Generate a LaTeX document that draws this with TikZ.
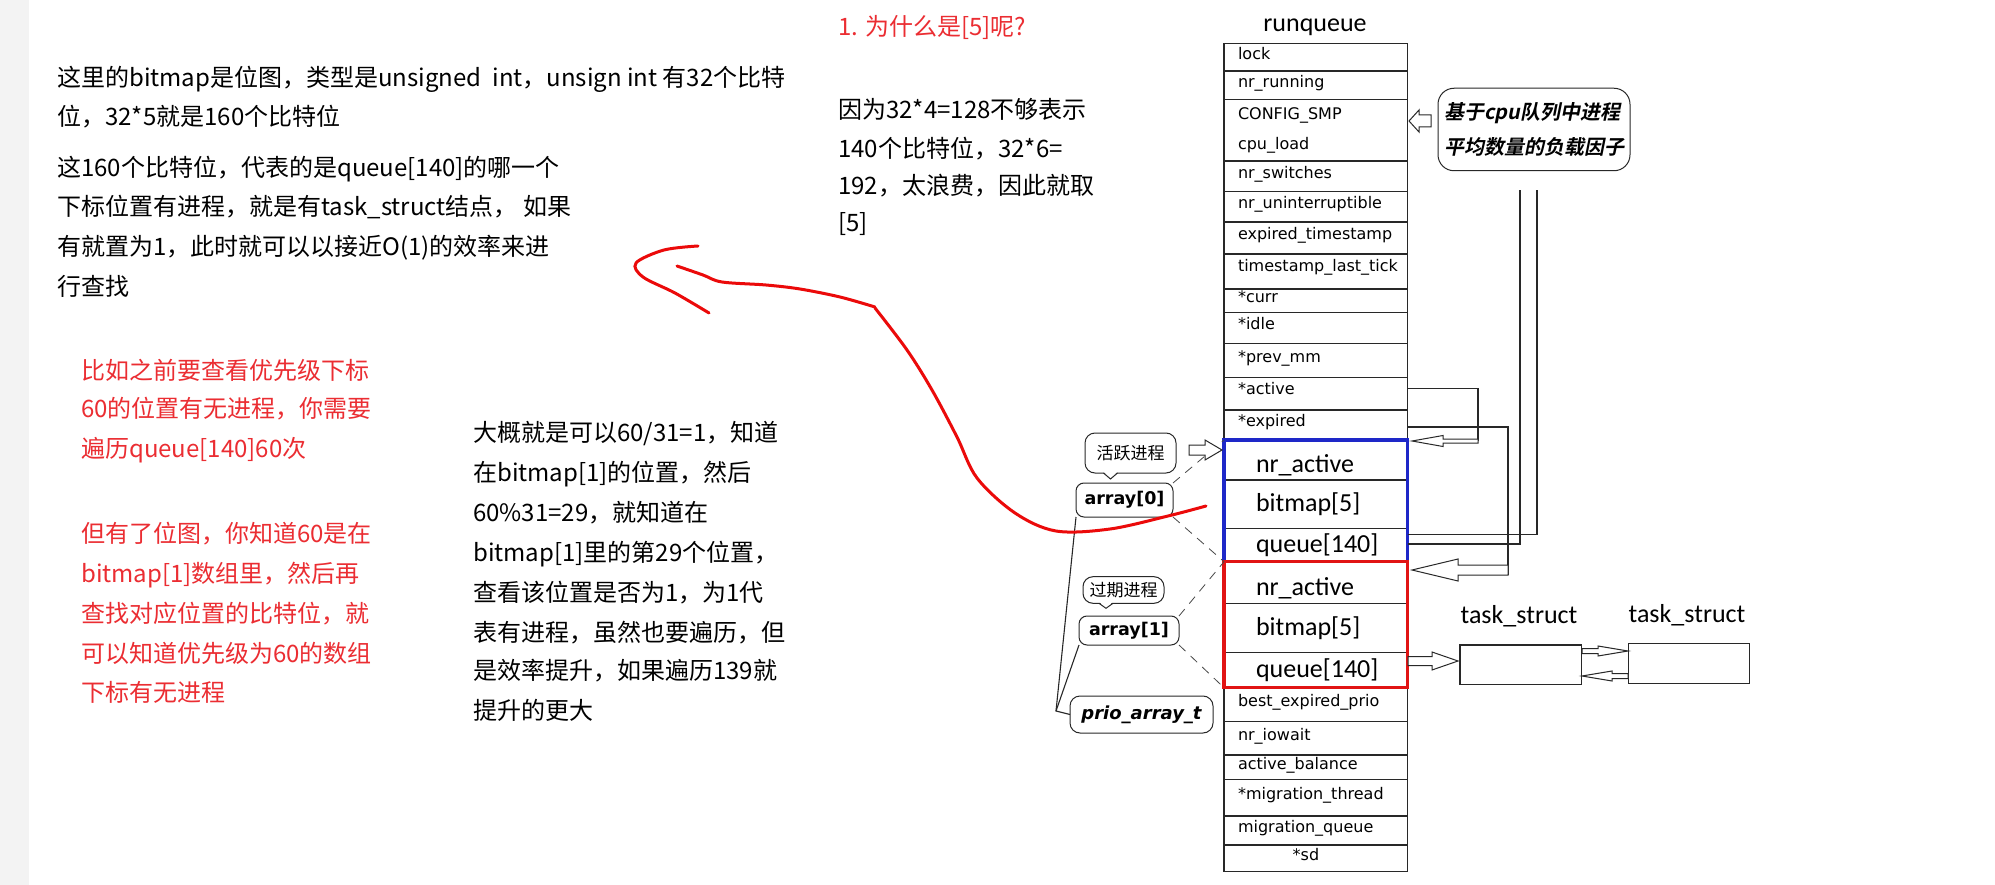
\documentclass[tikz,border=0pt]{standalone}
\usepackage{fontspec}
\setmainfont{DejaVu Sans}
\newfontfamily\cjk{Noto Sans CJK SC}
\newfontfamily\cjkbi[FakeSlant=0.2]{Noto Sans CJK SC Bold}
\newfontfamily\calfont{Carlito}
\usetikzlibrary{calc}
\definecolor{bluebox}{RGB}{30,40,200}
\definecolor{redbox}{RGB}{225,20,20}
\definecolor{redpen}{RGB}{235,10,10}
\definecolor{redtxt}{RGB}{235,45,50}
\definecolor{strip}{RGB}{243,243,243}
\definecolor{ln}{RGB}{40,40,40}
\newcommand\barrow[6]{\draw[barr] (#1,#4-#5) -- (#2,#4-#5) -- (#2,#4-#6) -- (#3,#4) -- (#2,#4+#6) -- (#2,#4+#5) -- (#1,#4+#5) -- cycle;}
\begin{document}
\begin{tikzpicture}[x=1pt,y=-1pt,
  rowbase/.style={draw=ln,line width=1.2pt,outer sep=0,minimum width=183.5,inner xsep=14,inner ysep=0,text width=155.5,align=left,font=\fontsize{16}{30}\selectfont,anchor=north},
  row/.style={rowbase,text height=12pt,text depth=8pt},
  bigrow/.style={draw=ln,line width=1.2pt,outer sep=0,minimum width=183.5,inner xsep=32,inner ysep=0,text width=119.5,align=left,font=\calfont\fontsize{26}{26}\selectfont,anchor=north},
  cn/.style={anchor=base west,inner sep=0,font=\cjk\fontsize{24}{24}\selectfont},
  barr/.style={draw=ln,line width=1pt,fill=white},
  dsh/.style={draw=ln!85,line width=0.8pt,dash pattern=on 9pt off 7pt},
  conn/.style={draw=ln,line width=1.1pt},
  bub/.style={draw=ln,line width=1pt,rounded corners=10,fill=white,inner sep=0,outer sep=0},
  redpenline/.style={draw=redpen,line width=3pt,line cap=round,line join=round}]
\useasboundingbox (0,0) rectangle (1995,885);
\fill[white] (0,0) rectangle (1995,885);
\fill[strip] (0,0) rectangle (29,885);

% ---------- left texts ----------
\node[cn] (p1a) at (57,87) {这里的bitmap是位图，类型是unsigned\ \ int，unsign int 有32个比特};
\node[cn] (p1b) at (57,126) {位，32*5就是160个比特位};
\node[cn] (p2a) at (57,177) {这160个比特位，代表的是queue[140]的哪一个};
\node[cn] (p2b) at (57,216) {下标位置有进程，就是有task\_struct结点， 如果};
\node[cn] (p2c) at (57,256) {有就置为1，此时就可以以接近O(1)的效率来进};
\node[cn] (p2d) at (57,296) {行查找};

\node[cn,text=redtxt] (r1) at (81,379) {比如之前要查看优先级下标};
\node[cn,text=redtxt] (r2) at (81,417) {60的位置有无进程，你需要};
\node[cn,text=redtxt] (r3) at (81,457) {遍历queue[140]60次};
\node[cn,text=redtxt] (r4) at (81,542) {但有了位图，你知道60是在};
\node[cn,text=redtxt] (r5) at (81,582) {bitmap[1]数组里，然后再};
\node[cn,text=redtxt] (r6) at (81,622) {查找对应位置的比特位，就};
\node[cn,text=redtxt] (r7) at (81,662) {可以知道优先级为60的数组};
\node[cn,text=redtxt] (r8) at (81,701) {下标有无进程};

\node[cn] (m1) at (473,441) {大概就是可以60/31=1，知道};
\node[cn] (m2) at (473,481) {在bitmap[1]的位置，然后};
\node[cn] (m3) at (473,521) {60\%31=29，就知道在};
\node[cn] (m4) at (473,561) {bitmap[1]里的第29个位置，};
\node[cn] (m5) at (473,601) {查看该位置是否为1，为1代};
\node[cn] (m6) at (473,641) {表有进程，虽然也要遍历，但};
\node[cn] (m7) at (473,679) {是效率提升，如果遍历139就};
\node[cn] (m8) at (473,719) {提升的更大};

\node[cn,text=redtxt] (q0) at (838,36) {1. 为什么是[5]呢?};
\node[cn] (q1) at (838,119) {因为32*4=128不够表示};
\node[cn] (q2) at (838,158) {140个比特位，32*6=};
\node[cn] (q3) at (838,195) {192，太浪费，因此就取};
\node[cn] (q4) at (838,232) {[5]};

% ---------- runqueue table ----------
\node[anchor=base,inner sep=0,font=\calfont\fontsize{26}{26}\selectfont] (title) at (1315,31.5) {runqueue};
\node[row,minimum height=27.7] (rlock) at (1315.75,43.3) {lock};
\node[row,minimum height=28.3] (rnrrun) at (rlock.south) {nr\_running};
\node[rowbase,minimum height=61.7] (rconfig) at (rnrrun.south) {CONFIG\_SMP\\cpu\_load};
\node[row,minimum height=30.7] (rswitch) at (rconfig.south) {nr\_switches};
\node[row,minimum height=30.3] (runint) at (rswitch.south) {nr\_uninterruptible};
\node[row,minimum height=32] (rexpts) at (runint.south) {expired\_timestamp};
\node[row,minimum height=35,text depth=11pt] (rtslt) at (rexpts.south) {timestamp\_last\_tick};
\node[row,minimum height=23.3] (rcurr) at (rtslt.south) {*curr};
\node[row,minimum height=31] (ridle) at (rcurr.south) {*idle};
\node[row,minimum height=34.4] (rprev) at (ridle.south) {*prev\_mm};
\node[row,minimum height=32.3,text depth=11pt] (ractive) at (rprev.south) {*active};
\node[row,minimum height=30,text depth=10pt] (rexp) at (ractive.south) {*expired};
\node[bigrow,minimum height=40,text height=29pt] (bna) at (rexp.south) {nr\_active};
\node[bigrow,minimum height=48.3] (bbm) at (bna.south) {bitmap[5]};
\node[bigrow,minimum height=33.4] (bq) at (bbm.south) {queue[140]};
\node[bigrow,minimum height=41.6,text height=29pt] (rna) at (bq.south) {nr\_active};
\node[bigrow,minimum height=49] (rbm) at (rna.south) {bitmap[5]};
\node[bigrow,minimum height=35.4] (rq) at (rbm.south) {queue[140]};
\node[row,minimum height=34] (rbest) at (rq.south) {best\_expired\_prio};
\node[row,minimum height=33.3] (riow) at (rbest.south) {nr\_iowait};
\node[row,minimum height=24.3] (rab) at (riow.south) {active\_balance};
\node[row,minimum height=36.7] (rmt) at (rab.south) {*migration\_thread};
\node[row,minimum height=29] (rmq) at (rmt.south) {migration\_queue};
\node[row,minimum height=26.7] (rsd) at (rmq.south) {\hspace*{54.7pt}*sd};
\draw[draw=bluebox,line width=3.5pt] (bna.north west) rectangle (bq.south east);
\draw[draw=redbox,line width=3.5pt] (rna.north west) rectangle (rq.south east);

% ---------- cpu_load note ----------
\node[bub,rounded corners=16,minimum width=192,minimum height=82.5,align=left,font=\cjkbi\fontsize{20}{35}\selectfont] (cpu) at (1534,129.5) {基于cpu队列中进程\\平均数量的负载因子};
\barrow{1431}{1419}{1409}{121}{6}{11}

% ---------- left bubbles ----------
\node[bub,minimum width=91,minimum height=40,font=\cjk\fontsize{17}{17}\selectfont] (act) at (1130.5,453) {活跃进程};
\fill[white] ($(act.south)+(-27,-1.5)$) -- ($(act.south)+(-20,6)$) -- ($(act.south)+(-13,-1.5)$) -- cycle;
\draw[draw=ln,line width=1pt] ($(act.south)+(-27,0)$) -- ($(act.south)+(-20,6)$) -- ($(act.south)+(-13,0)$);
\node[bub,minimum width=81,minimum height=26.6,font=\cjk\fontsize{17}{17}\selectfont] (exq) at (1123.5,590) {过期进程};
\fill[white] ($(exq.south)+(-24.5,-1.5)$) -- ($(exq.south)+(-17.5,5)$) -- ($(exq.south)+(-10.5,-1.5)$) -- cycle;
\draw[draw=ln,line width=1pt] ($(exq.south)+(-24.5,0)$) -- ($(exq.south)+(-17.5,5)$) -- ($(exq.south)+(-10.5,0)$);
\node[bub,rounded corners=8,minimum width=97,minimum height=34,font=\bfseries\fontsize{17.5}{17.5}\selectfont] (a0) at (1124.5,500) {array[0]};
\node[bub,rounded corners=8,minimum width=100,minimum height=29,font=\bfseries\fontsize{17.5}{17.5}\selectfont] (a1) at (1129,630.5) {array[1]};
\node[bub,minimum width=143,minimum height=37,font=\bfseries\itshape\fontsize{18}{18}\selectfont] (prio) at (1141.5,714.5) {prio\_array\_t};
\coordinate (j) at (1056,711);
\draw[conn] (a0.south west) -- (j) -- (prio.west);
\draw[conn] (a1.south west) -- (j);
\draw[dsh] (a0.north east) -- (bna.north west);
\draw[dsh] (a0.south east) -- (bq.south west);
\draw[dsh] (a1.north east) -- (rna.north west);
\draw[dsh] (a1.south east) -- (rq.south west);
\barrow{1189}{1205}{1222}{450}{5}{10}

% ---------- right connectors ----------
\coordinate (ca) at (1478,441);
\coordinate (ce) at (1508,575);
\draw[conn] ([yshift=5.7pt]ractive.east) -| (ca);
\barrow{1478}{1443}{1412}{441}{2}{5.5}
\draw[conn] ([yshift=-2pt]rexp.east) -| (ce);
\barrow{1508}{1458}{1412}{570}{5}{11}
\coordinate (qa) at (1537,190);
\coordinate (qb) at (1520,190);
\draw[conn] ([yshift=10.7pt]bq.east) -| (qa);
\draw[conn] ([yshift=1pt]bq.east) -| (qb);

% ---------- task_struct ----------
\node[draw=ln,line width=1.2pt,minimum width=121.7,minimum height=39.3,inner sep=0] (t1) at (1520.8,664.7) {};
\node[draw=ln,line width=1.2pt,minimum width=121,minimum height=40,inner sep=0] (t2) at (1688.8,663.3) {};
\node[anchor=base,inner sep=0,font=\calfont\fontsize{26}{26}\selectfont] (t1l) at (1519,623) {task\_struct};
\node[anchor=base,inner sep=0,font=\calfont\fontsize{26}{26}\selectfont] (t2l) at (1687,622) {task\_struct};
\barrow{1408}{1432}{1458}{661}{4.5}{9}
\barrow{1582}{1598}{1628}{651}{2.5}{5}
\barrow{1628}{1612}{1582}{676}{2.5}{5}

% ---------- red freehand arrow ----------
\draw[redpenline] plot[smooth,tension=0.55] coordinates {(1206,506) (1168,516) (1110,529) (1056,531) (1015,513) (977,478) (957,437) (932,390) (907,350) (875,308)};
\draw[redpenline] plot[smooth,tension=0.55] coordinates {(875,307) (840,297) (800,289) (766,285) (722,282) (703,275) (677,266)};
\draw[redpenline] plot[smooth,tension=0.55] coordinates {(698,246) (664,250) (636,263) (643,277) (675,293) (709,313)};
\end{tikzpicture}
\end{document}
